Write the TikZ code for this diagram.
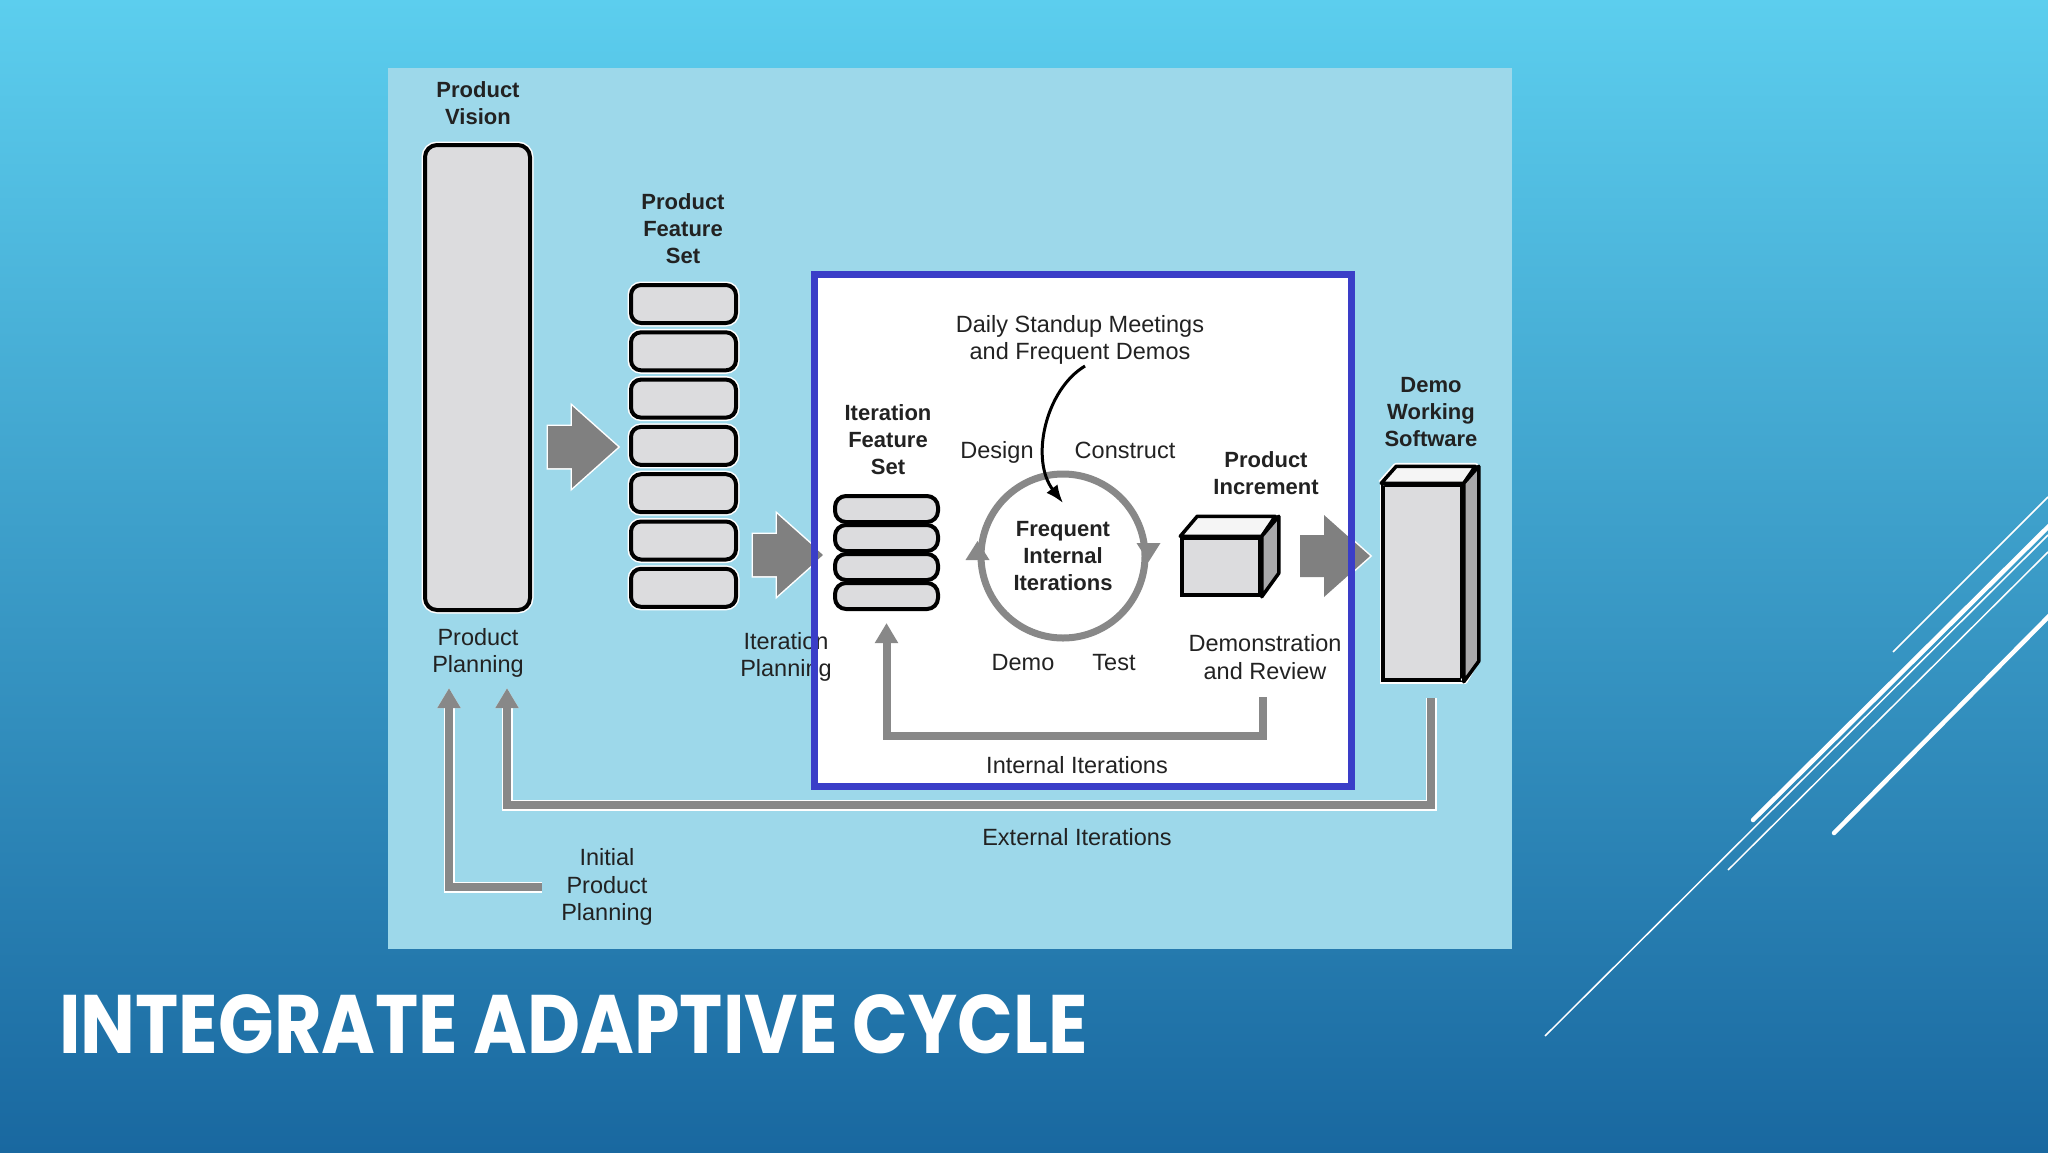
\documentclass[tikz,border=0pt]{standalone}
\usepackage{fontspec}
\setmainfont{Liberation Sans}
\newfontfamily\titlefont{Poppins}
\usetikzlibrary{arrows.meta}
\definecolor{bgtop}{RGB}{92,206,238}
\definecolor{bgmid}{RGB}{68,164,205}
\definecolor{bgbot}{RGB}{25,104,160}
\definecolor{panel}{RGB}{157,216,234}
\definecolor{boxfill}{RGB}{220,220,222}
\definecolor{arrowgray}{RGB}{128,128,128}
\definecolor{loopgray}{RGB}{136,136,136}
\definecolor{frameblue}{RGB}{58,62,200}
\definecolor{ink}{RGB}{34,34,34}
\definecolor{sidegray}{RGB}{168,168,170}
\definecolor{topwhite}{RGB}{245,245,245}
\begin{document}
\begin{tikzpicture}[x=1pt,y=-1pt,
  bold label/.style={font=\fontsize{22}{27}\selectfont\bfseries, text=ink, align=center, inner sep=0pt},
  plain label/.style={font=\fontsize{23.5}{27.5}\selectfont, text=ink, align=center, inner sep=0pt},
  fbox/.style={draw=black, line width=4pt, fill=boxfill, inner sep=0pt,
    preaction={draw=white, line width=7pt}},
  ibox/.style={draw=black, line width=4pt, fill=boxfill, inner sep=0pt, rounded corners=11pt,
    minimum width=103pt, minimum height=26pt},
  outerloop/.style={draw=loopgray, line width=8pt,
    preaction={draw=white, line width=11pt},
    -{Triangle[width=22pt,length=20pt]}},
  innerloop/.style={draw=loopgray, line width=8pt, -{Triangle[width=22pt,length=20pt]}},
  thinline/.style={white, line width=1.5pt},
  thickline/.style={white, line width=4.5pt, line cap=round},
  blockarrow/.pic={\fill[arrowgray, preaction={draw=white, line width=3pt}]
    (0,0) -- (-46,-41) -- (-46,-21) -- (-70,-21) -- (-70,21) -- (-46,21) -- (-46,41) -- cycle;}
]
\useasboundingbox (0,0) rectangle (2048,1152);
\shade[top color=bgtop, middle color=bgmid, bottom color=bgbot] (0,0) rectangle (2048,1152);

% decorative diagonal lines
\draw[thinline] (1893,652) -- (2048,497);
\draw[thickline] (1753,820) -- (2060,515);
\draw[thinline] (1545,1036) -- (2048,535);
\draw[thinline] (1728,870) -- (2048,552);
\draw[thickline] (1834,833) -- (2060,605);

% panel
\node[fill=panel, minimum width=1124pt, minimum height=881pt, inner sep=0pt, anchor=north west] (panelbox) at (388,68) {};

% iteration box (white area)
\node[fill=white, minimum width=536pt, minimum height=511pt, inner sep=0pt] (iterbox) at (1083,530.5) {};

% product vision
\node[bold label] (pv) at (478,103) {Product\\Vision};
\node[fbox, rounded corners=12pt, minimum width=105pt, minimum height=465pt] (vision) at (477.5,377.5) {};

% product feature set
\node[bold label] (pfs) at (683,229) {Product\\Feature\\Set};
\foreach \i in {1,...,7} {
  \node[fbox, rounded corners=10pt, minimum width=105pt, minimum height=38pt] (f\i) at (683.5,{304+47.3*(\i-1)}) {};
}

% iteration feature set
\node[bold label] (ifs) at (888,440) {Iteration\\Feature\\Set};
\foreach \i in {1,...,4} {
  \node[ibox] (i\i) at (886.5,{509+29*(\i-1)}) {};
}

% block arrows
\pic (arrowA) at (618,447) {blockarrow};
\pic (arrowB) at (823,555) {blockarrow};
\pic (arrowC) at (1370,556) {blockarrow};

% labels
\node[plain label] (pplan) at (478,653) {Product\\Planning};
\node[plain label] (iplan) at (786,657) {Iteration\\Planning};
\node[plain label] (dsm) at (1080,340) {Daily Standup Meetings\\and Frequent Demos};
\node[plain label, anchor=base] (design) at (997,458) {Design};
\node[plain label, anchor=base] (construct) at (1125,458) {Construct};
\node[plain label, anchor=base] (demo) at (1023,670) {Demo};
\node[plain label, anchor=base] (test) at (1114,670) {Test};
\node[plain label] (demrev) at (1265,657) {Demonstration\\and Review};
\node[plain label, anchor=base] (intit) at (1077,773) {Internal Iterations};
\node[plain label, anchor=base] (extit) at (1077,845) {External Iterations};
\node[plain label] (ipp) at (607,887) {Initial\\Product\\Planning};
\node[bold label] (pil) at (1266,473) {Product\\Increment};
\node[bold label] (dwsl) at (1431,412) {Demo\\Working\\Software};

% cycle
\node[circle, draw=loopgray, line width=7pt, minimum size=164pt, inner sep=0pt, bold label] (cyc) at (1063,556) {Frequent\\Internal\\Iterations};
\fill[loopgray] (cyc.west) ++(-12,4) -- ++(24,0) -- ++(-12,-19) -- cycle;
\fill[loopgray] (cyc.east) ++(-12,-13) -- ++(24,0) -- ++(-12,19) -- cycle;

% curved arrow from standup meetings
\coordinate (curvestart) at (1085,366);
\coordinate (curveend) at (1063,503);
\draw[line width=3pt, -{Latex[length=18pt,width=14pt]}] (curvestart) .. controls (1045,390) and (1030,460) .. (curveend);

% product increment cube
\node[draw=black, line width=3.5pt, fill=boxfill, minimum width=78pt, minimum height=57pt, inner sep=0pt] (incr) at (1221,566.5) {};
\filldraw[fill=topwhite, line width=3.5pt, line join=round] (incr.north west) -- ++(17,-20) -- ++(78,0) -- (incr.north east) -- cycle;
\filldraw[fill=sidegray, line width=3.5pt, line join=round] (incr.north east) -- ++(17,-20) -- ++(0,57) -- (incr.south east) -- cycle;

% demo working software block
\node[draw=black, line width=3.5pt, fill=boxfill, minimum width=79pt, minimum height=195pt, inner sep=0pt,
  preaction={draw=white, line width=7pt}] (dws) at (1422.5,582.5) {};
\draw[white, line width=7pt, line join=round] (dws.north west) -- ++(15,-17) -- ++(79,0) -- ++(0,195) -- (dws.south east);
\filldraw[fill=topwhite, line width=3.5pt, line join=round] (dws.north west) -- ++(15,-17) -- ++(79,0) -- (dws.north east) -- cycle;
\filldraw[fill=sidegray, line width=3.5pt, line join=round] (dws.north east) -- ++(15,-17) -- ++(0,195) -- (dws.south east) -- cycle;

% internal iterations loop
\coordinate (intstart) at (1263,697);
\coordinate (intbot) at (0,736);
\draw[innerloop, shorten >=12pt] (intstart) -- (intstart |- intbot) -- (i4.south |- intbot) -- (i4.south);

% external iterations loop
\coordinate (extstart) at (1431,698);
\coordinate (extbot) at (0,805);
\coordinate (pp2) at (507,688);
\draw[outerloop] (extstart) -- (extstart |- extbot) -- (pp2 |- extbot) -- (pp2);

% initial product planning loop
\coordinate (initstart) at (542,887);
\coordinate (pp1) at (449,688);
\draw[outerloop] (initstart) -- (pp1 |- initstart) -- (pp1);

% blue frame on top
\draw[frameblue, line width=7pt] (iterbox.north west) rectangle (iterbox.south east);

% title
\node[anchor=base west, inner sep=0pt, text=white, font=\titlefont\bfseries\fontsize{83}{90}\selectfont] (title) at (59,1053) {\scalebox{0.88}[1]{INTEGRATE ADAPTIVE CYCLE}};
\end{tikzpicture}
\end{document}
